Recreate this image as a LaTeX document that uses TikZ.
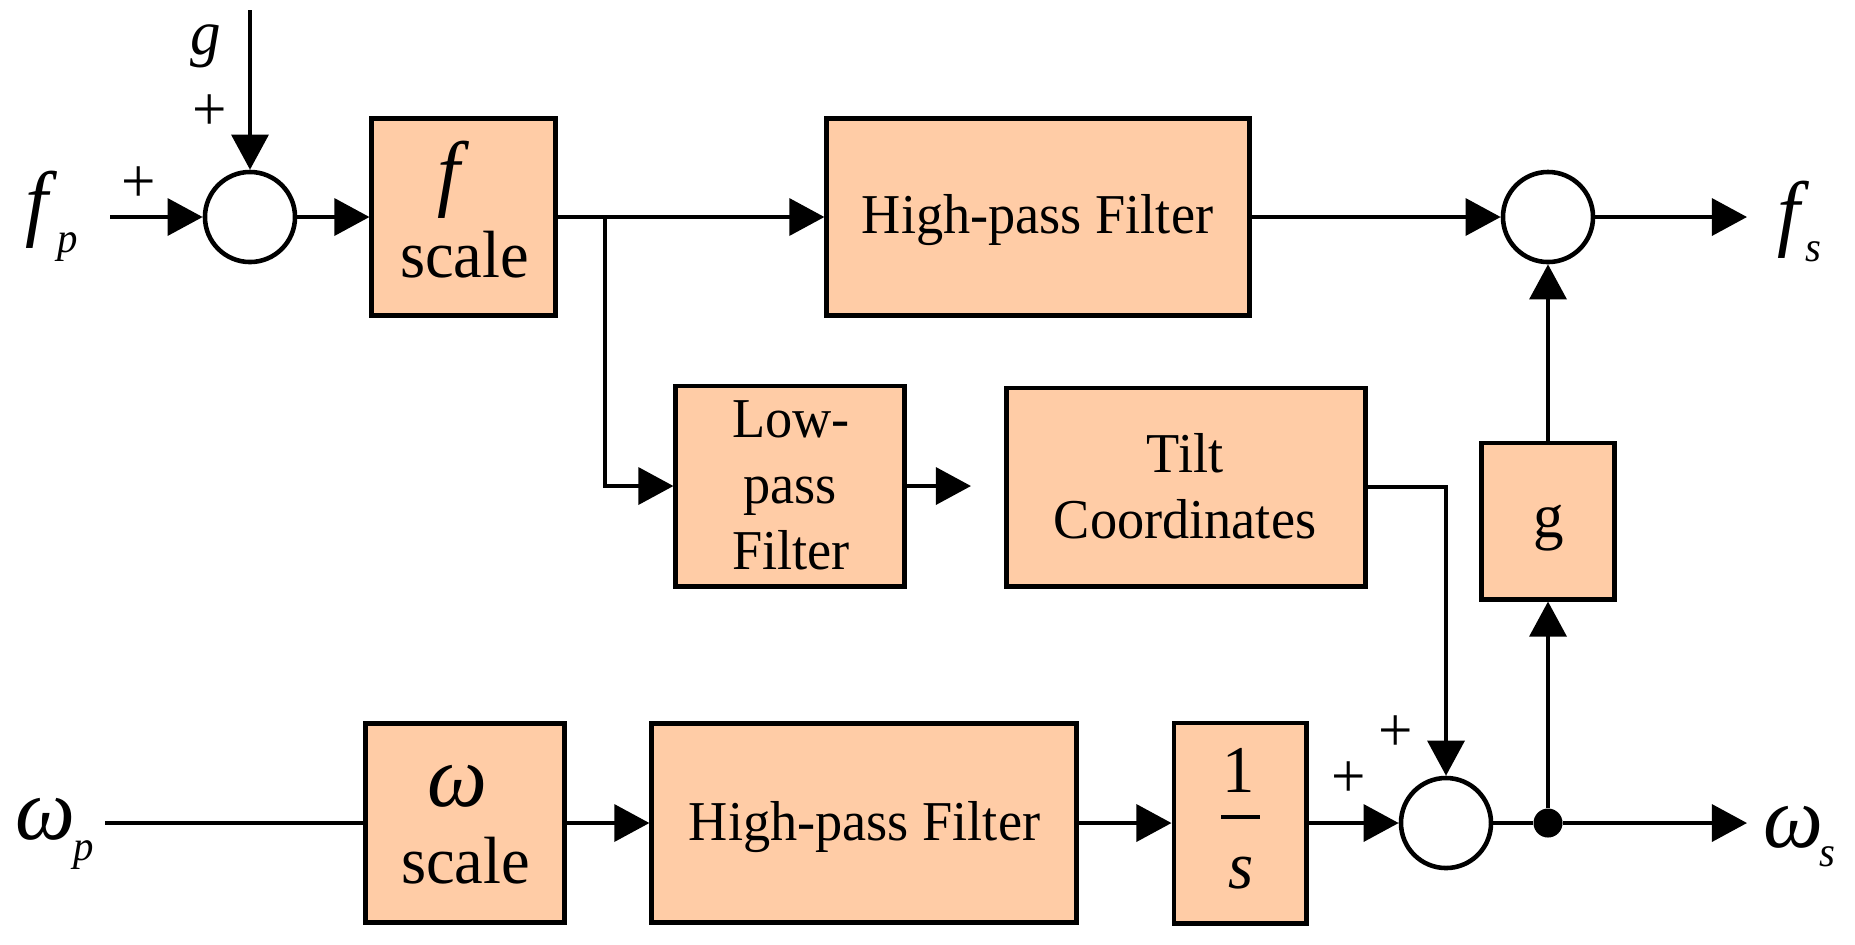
\documentclass[tikz,border=0pt]{standalone}
\usepackage{fontspec}
\setmainfont[FakeStretch=0.965]{Liberation Serif}
\usetikzlibrary{arrows.meta,calc}
\definecolor{peach}{RGB}{255,204,166}
\newcommand\fsz[1]{\fontsize{#1}{#1}\selectfont}
\begin{document}
\begin{tikzpicture}[x=0.01cm,y=-0.01cm,
  blk/.style={draw=black, line width=1.4pt, fill=peach, inner sep=0pt},
  sumc/.style={draw=black, line width=1.3pt, fill=white, circle, inner sep=0pt, minimum size=0.9cm},
  sig/.style={line width=1.15pt, -{Triangle[length=10pt,width=10.5pt]}},
  wire/.style={line width=1.15pt},
  txt/.style={inner sep=0pt, anchor=base, font=\fsz{16}},
  lbl/.style={inner sep=0pt},
  pls/.style={inner sep=0pt, font=\fsz{18}}]
\useasboundingbox (0,0) rectangle (1855,944);

% ---- blocks ----
\node[blk, minimum width=1.83cm, minimum height=1.97cm] (fbox) at (463.5,217) {};
\node[blk, minimum width=4.22cm, minimum height=1.97cm] (hpf1) at (1038,217) {};
\node[blk, minimum width=2.28cm, minimum height=2.00cm] (lpf) at (790,486) {};
\node[blk, minimum width=3.58cm, minimum height=1.98cm] (tilt) at (1186,487) {};
\node[blk, minimum width=1.33cm, minimum height=1.56cm] (gbox) at (1548,521) {};
\node[blk, minimum width=1.98cm, minimum height=1.99cm] (wbox) at (465,823) {};
\node[blk, minimum width=4.24cm, minimum height=1.99cm] (hpf2) at (864,823) {};
\node[blk, minimum width=1.32cm, minimum height=2.00cm] (invs) at (1240,823) {};

% ---- summing junctions ----
\node[sumc] (s1) at (250,217) {};
\node[sumc] (s3) at (1548,217) {};
\node[sumc] (s2) at (1446,823) {};
\node[circle, fill=black, inner sep=0pt, minimum size=0.29cm] (dot) at (1548,823) {};

% ---- free ends ----
\coordinate (fpin) at (110,217);
\coordinate (gin) at (250,10);
\coordinate (br) at (605,217);
\coordinate (lpfo) at (971,486);
\coordinate (fsout) at (1747,217);
\coordinate (wpin) at (105,823);
\coordinate (wsout) at (1747,823);

% ---- connectors ----
\draw[sig] (fpin) -- (s1);
\draw[sig] (gin) -- (s1);
\draw[sig] (s1) -- (fbox);
\draw[sig] (fbox) -- (hpf1);
\draw[sig] (br) |- (lpf);
\draw[sig] (lpf) -- (lpfo);
\draw[sig] (tilt.east) -| (s2);
\draw[sig] (hpf1) -- (s3);
\draw[sig] (s3) -- (fsout);
\draw[sig] (gbox) -- (s3);
\draw[sig] (dot) -- (gbox);
\draw[wire] (s2) -- (dot);
\draw[sig] (dot) -- (wsout);
\draw[wire] (wpin) -- (wbox);
\draw[sig] (wbox) -- (hpf2);
\draw[sig] (hpf2) -- (invs);
\draw[sig] (invs) -- (s2);

% ---- block texts ----
\node[txt] (t1) at (1037.5,233) {High-pass Filter};
\node[txt] (t2) at (864.5,840) {High-pass Filter};
\node[txt] (t3a) at (791,437) {Low-};
\node[txt] (t3b) at (790,503) {pass};
\node[txt] (t3c) at (791,569) {Filter};
\node[txt] (t4a) at (1185,472) {Tilt};
\node[txt] (t4b) at (1185,538) {Coordinates};
\node[lbl, font=\fsz{24}\itshape] (t5a) at (449,180) {f};
\node[txt, font=\fsz{19}] (t5b) at (464.5,277) {scale};
\node[lbl, font=\fsz{25}\itshape] (t6a) at (457.5,786.5) {ω};
\node[txt, font=\fsz{19}] (t6b) at (465.5,883) {scale};
\node[txt, font=\fsz{18}] (t7) at (1549,537) {g};
\node[txt, font=\fsz{19}] (t8a) at (1239,792) {1};
\draw[line width=1pt] (1221,817) -- (1260,817);
\node[txt, font=\fsz{19}\itshape] (t8b) at (1241,888) {s};

% ---- signal labels ----
\node[lbl, font=\fsz{24}\itshape] (fpf) at (37,210) {f};
\node[lbl, font=\fsz{12}\itshape] (fpp) at (68,247) {p};
\node[lbl, font=\fsz{18}\itshape] (glab) at (205.5,46.5) {g};
\node[lbl, font=\fsz{24}\itshape] (fsf) at (1789,220) {f};
\node[lbl, font=\fsz{12}\itshape] (fss) at (1813,252) {s};
\node[lbl, anchor=base west, font=\fsz{25}\itshape] (wp) at (15,839)
  {ω\kern-0.6pt\raisebox{-6pt}{\fsz{12}p}};
\node[lbl, anchor=base west, font=\fsz{25}\itshape] (ws) at (1763,847)
  {ω\kern-1.2pt\raisebox{-5.4pt}{\fsz{12}s}};

% ---- signs ----
\node[pls] (p1) at (139,185) {+};
\node[pls] (p2) at (210,113) {+};
\node[pls] (p3) at (1396,734) {+};
\node[pls] (p4) at (1349,780) {+};
\end{tikzpicture}
\end{document}
